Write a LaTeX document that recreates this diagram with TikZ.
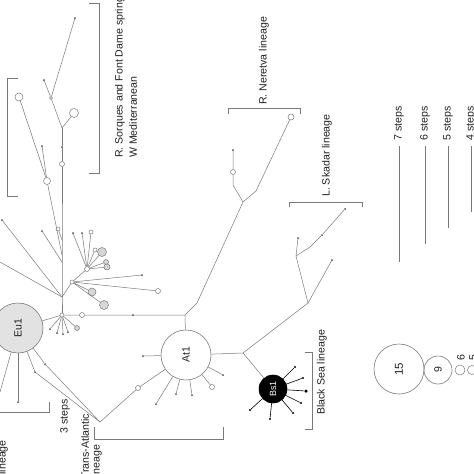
\documentclass[tikz,border=0pt]{standalone}
\usepackage{fontspec}
\setmainfont{Liberation Sans}
\begin{document}
\begin{tikzpicture}[x=1pt,y=-1pt]
\definecolor{lc}{HTML}{7A7A7A}
\definecolor{tc}{HTML}{222222}
\definecolor{eufill}{HTML}{E2E2E2}
\definecolor{gfill}{HTML}{D6D6D6}
\tikzset{
 ln/.style={draw=lc, line width=0.5pt},
 bln/.style={draw=black, line width=0.6pt},
 dt/.style={circle, fill=lc!60!black, inner sep=0, minimum size=2pt},
 bdt/.style={circle, fill=black, inner sep=0, minimum size=2.4pt},
 oc/.style={circle, draw=lc, fill=white, inner sep=0, line width=0.5pt},
 gc/.style={circle, draw=lc, fill=gfill, inner sep=0, line width=0.5pt},
 big/.style={circle, draw=lc, inner sep=0, line width=0.6pt, rotate=90, text=tc},
 lbl/.style={rotate=90, text=tc, font=\fontsize{10.6}{12.5}\selectfont, inner sep=0},
 brk/.style={draw=lc, line width=0.6pt},
}
\useasboundingbox (0,0) rectangle (474,474);
\fill[white] (0,0) rectangle (474,474);

% big haplotypes
\node[big, fill=eufill, minimum size=50pt, font=\fontsize{10.5}{12}\selectfont] (Eu1) at (18,328) {Eu1};
\node[big, fill=white, minimum size=50pt, font=\fontsize{10.5}{12}\selectfont] (At1) at (186,355) {At1};
\node[big, draw=black, fill=black, text=white, minimum size=28pt, font=\fontsize{9}{10}\selectfont] (Bs1) at (273,389) {Bs1};

% hubs and trunk
\node[oc, minimum size=4pt] (h0) at (62,315) {};
\coordinate (j1) at (62,297);
\node[oc, minimum size=4pt] (h2) at (72,282) {};
\node[oc, minimum size=5pt] (h1) at (87,269) {};
\coordinate (n1) at (62,128);
\node[dt] (t1) at (62,147) {};
\node[oc, minimum size=5pt] (t2) at (62,164) {};
\coordinate (m1) at (62,240);
\coordinate (m2) at (62,255);
\coordinate (m3) at (62,262);
\node[oc, minimum size=3pt] (n3) at (51,98) {};
\node[dt] (u1) at (44,80) {};
\node[dt] (u2) at (75,18) {};
\node[oc, minimum size=9pt] (u3) at (74,113) {};
\node[oc, minimum size=8pt] (w1) at (19,97) {};
\node[oc, minimum size=7pt] (w2) at (47,181) {};
\node[dt] (w3) at (42,146) {};
\node[oc, minimum size=4pt] (w4) at (58,229) {};
\node[dt] (w5) at (42,231) {};
\node[dt] (l1) at (2,220) {};
\coordinate (l2) at (0,262);

% Eu1 hub spokes
\node[dt] (e1) at (50,329) {};
\node[dt] (e2) at (57,333) {};
\node[dt] (e3) at (63,334) {};
\node[dt] (e4) at (68,332) {};
\node[gc, minimum size=5pt] (e5) at (77,328) {};

\node[oc, minimum size=5pt] (c1) at (82,315) {};
\node[dt] (c2) at (133,315) {};
\coordinate (j2) at (185,315);
\coordinate (b1) at (197,303);
\coordinate (n2) at (243,202);
\coordinate (r1) at (233,185);
\node[oc, minimum size=5pt] (r2) at (233,172) {};
\node[dt] (r3) at (233,150) {};
\coordinate (r4) at (256,191);
\node[oc, minimum size=6pt] (ner) at (291,117) {};

% At1 spokes
\node[dt] (a1) at (143,356) {};
\node[dt] (a2) at (223,375) {};
\node[oc, minimum size=5pt] (a3) at (212,387) {};
\node[dt] (a4) at (192,395) {};
\node[dt] (a5) at (176,394) {};
\node[dt] (a6) at (156,404) {};
\node[oc, minimum size=5pt] (a7) at (138,388) {};
\coordinate (tj) at (100,422);
\coordinate (j3) at (243,353);

% Skadar
\coordinate (s1) at (308,303);
\coordinate (s2) at (296,256);
\coordinate (s3) at (310,247);
\node[dt] (k1) at (332,260) {};
\node[dt] (k2) at (298,238) {};
\node[dt] (k3) at (345,209) {};
\node[dt] (k4) at (322,235) {};

% Bs1 spokes
\node[bdt] (q1) at (295,367) {};
\node[bdt] (q2) at (303,378) {};
\node[bdt, minimum size=3.5pt] (q3) at (306,391) {};
\node[bdt] (q4) at (301,403) {};
\node[bdt] (q5) at (293,413) {};
\node[bdt] (q6) at (270,419) {};
\node[bdt] (q7) at (250,410) {};

% Eu1 spokes
\node[dt] (v1) at (18,402) {};
\node[dt] (v2) at (35,372) {};
\node[dt] (v3) at (45,364) {};
\coordinate (v4) at (0,392);

% H1 spokes
\node[dt] (p1) at (73,233) {};
\node[dt] (p2) at (82,233) {};
\node[oc, minimum size=4pt] (p3) at (91,232) {};
\node[oc, minimum size=4pt] (p4) at (95,250) {};
\node[gc, minimum size=9pt] (p5) at (102,252) {};
\node[gc, minimum size=5pt] (p6) at (106,262) {};
\node[gc, minimum size=6pt] (p7) at (107,267) {};
% H2 spokes
\node[dt] (g1) at (142,275) {};
\node[oc, minimum size=5pt] (g2) at (158,291) {};
\node[gc, minimum size=8pt] (g3) at (92,292) {};
\node[gc, minimum size=9pt] (g4) at (104,305) {};

% connectors
\draw[ln] (Eu1) -- (h0);
\foreach \e in {e1,e2,e3,e4,e5} \draw[ln] (h0) -- (\e);
\draw[ln] (h0) -- (c1) -- (c2) -- (j2) -- (At1);
\draw[ln] (j2) -- (b1) -- (n2) -- (r1) -- (r2) -- (r3);
\draw[ln] (n2) -- (r4) -- (ner);
\draw[ln] (h0) -- (j1) -- (m3) -- (m2) -- (m1) -- (t2) -- (t1) -- (n1);
\draw[ln] (n1) -- (u3);
\draw[ln] (n1) -- (n3);
\draw[ln] (n3) -- (u1);
\draw[ln] (n3) -- (u2);
\draw[ln] (w1) -- (w2);
\draw[ln] (w3) -- (w2);
\draw[ln] (w2) -- (m2);
\draw[ln] (w4) -- (m1);
\draw[ln] (w5) -- (m3);
\draw[ln] (l1) -- (j1);
\draw[ln] (l2) -- (j1);
\draw[ln] (j1) -- (h2) -- (h1);
\foreach \p in {p1,p2,p3,p4,p5,p6,p7} \draw[ln] (h1) -- (\p);
\foreach \g in {g1,g2,g3,g4} \draw[ln] (h2) -- (\g);
\foreach \a in {a1,a2,a3,a4,a5,a6} \draw[ln] (At1) -- (\a);
\draw[ln] (At1) -- (a7) -- (tj);
\draw[ln] (tj) -- (v2) -- (Eu1);
\draw[ln] (tj) -- (v3) -- (Eu1);
\draw[ln] (Eu1) -- (v1);
\draw[ln] (Eu1) -- (v4);
\draw[ln] (At1) -- (j3) -- (Bs1);
\draw[ln] (j3) -- (s1) -- (k1);
\draw[ln] (s1) -- (s2) -- (k2);
\draw[ln] (s2) -- (s3) -- (k4) -- (k3);
\foreach \q in {q1,q2,q3,q4,q5,q6,q7} \draw[bln] (Bs1) -- (\q);

% brackets
\draw[brk] (89,3) -- (99,3) -- (99,173) -- (89,173);
\draw[brk] (18,78) -- (7,78) -- (7,196) -- (18,196);
\draw[brk] (228,114) -- (228,108) -- (300,108) -- (300,114);
\draw[brk] (289,207) -- (289,202) -- (362,202) -- (362,207);
\draw[brk] (305,352) -- (312,352) -- (312,429) -- (305,429);
\draw[brk] (94,427) -- (94,439) -- (223,439) -- (223,427);
\draw[brk] (0,412) -- (49,412) -- (49,402);

% labels
\node[lbl, anchor=west] (tsor) at (120,158) {R. Sorques and Font Dame springs};
\node[lbl, anchor=west] (twm) at (133,158) {W Mediterranean};
\node[lbl, anchor=west] (tner) at (264,105) {R. Neretva lineage};
\node[lbl, anchor=west] (tska) at (327,197) {L. Skadar lineage};
\node[lbl, anchor=west] (tbs) at (322,415) {Black Sea lineage};
\node[lbl, anchor=west] (tta1) at (85,479) {Trans-Atlantic};
\node[lbl, anchor=west] (tta2) at (97,479) {lineage};
\node[lbl, anchor=west] (t3) at (65,434) {3 steps};
\node[lbl, anchor=east] (teu) at (3,440) {lineage};

% legend
\node[lbl, anchor=west] (s7) at (399,141) {7 steps};
\node[lbl, anchor=west] (s6) at (425,141) {6 steps};
\node[lbl, anchor=west] (s5) at (448,141) {5 steps};
\node[lbl, anchor=west] (s4) at (471,141) {4 steps};
\coordinate (s7a) at (399,146); \coordinate (s7b) at (399,262);
\coordinate (s6a) at (425,146); \coordinate (s6b) at (425,244);
\coordinate (s5a) at (448,146); \coordinate (s5b) at (448,228);
\coordinate (s4a) at (471,146); \coordinate (s4b) at (471,212);
\draw[ln] (s7a) -- (s7b);
\draw[ln] (s6a) -- (s6b);
\draw[ln] (s5a) -- (s5b);
\draw[ln, line width=0.9pt] (s4a) -- (s4b);

\node[big, minimum size=50pt, font=\fontsize{11.5}{13}\selectfont] (c15) at (399,369) {15};
\node[big, minimum size=28pt, font=\fontsize{10.5}{12}\selectfont] (c9) at (438,370) {9};
\node[oc, minimum size=10pt] (c6) at (460,370) {};
\node[oc, minimum size=9pt] (c5) at (472,370) {};
\node[lbl] (l6) at (461,358) {6};
\node[lbl] (l5) at (473,358) {5};
\end{tikzpicture}
\end{document}
